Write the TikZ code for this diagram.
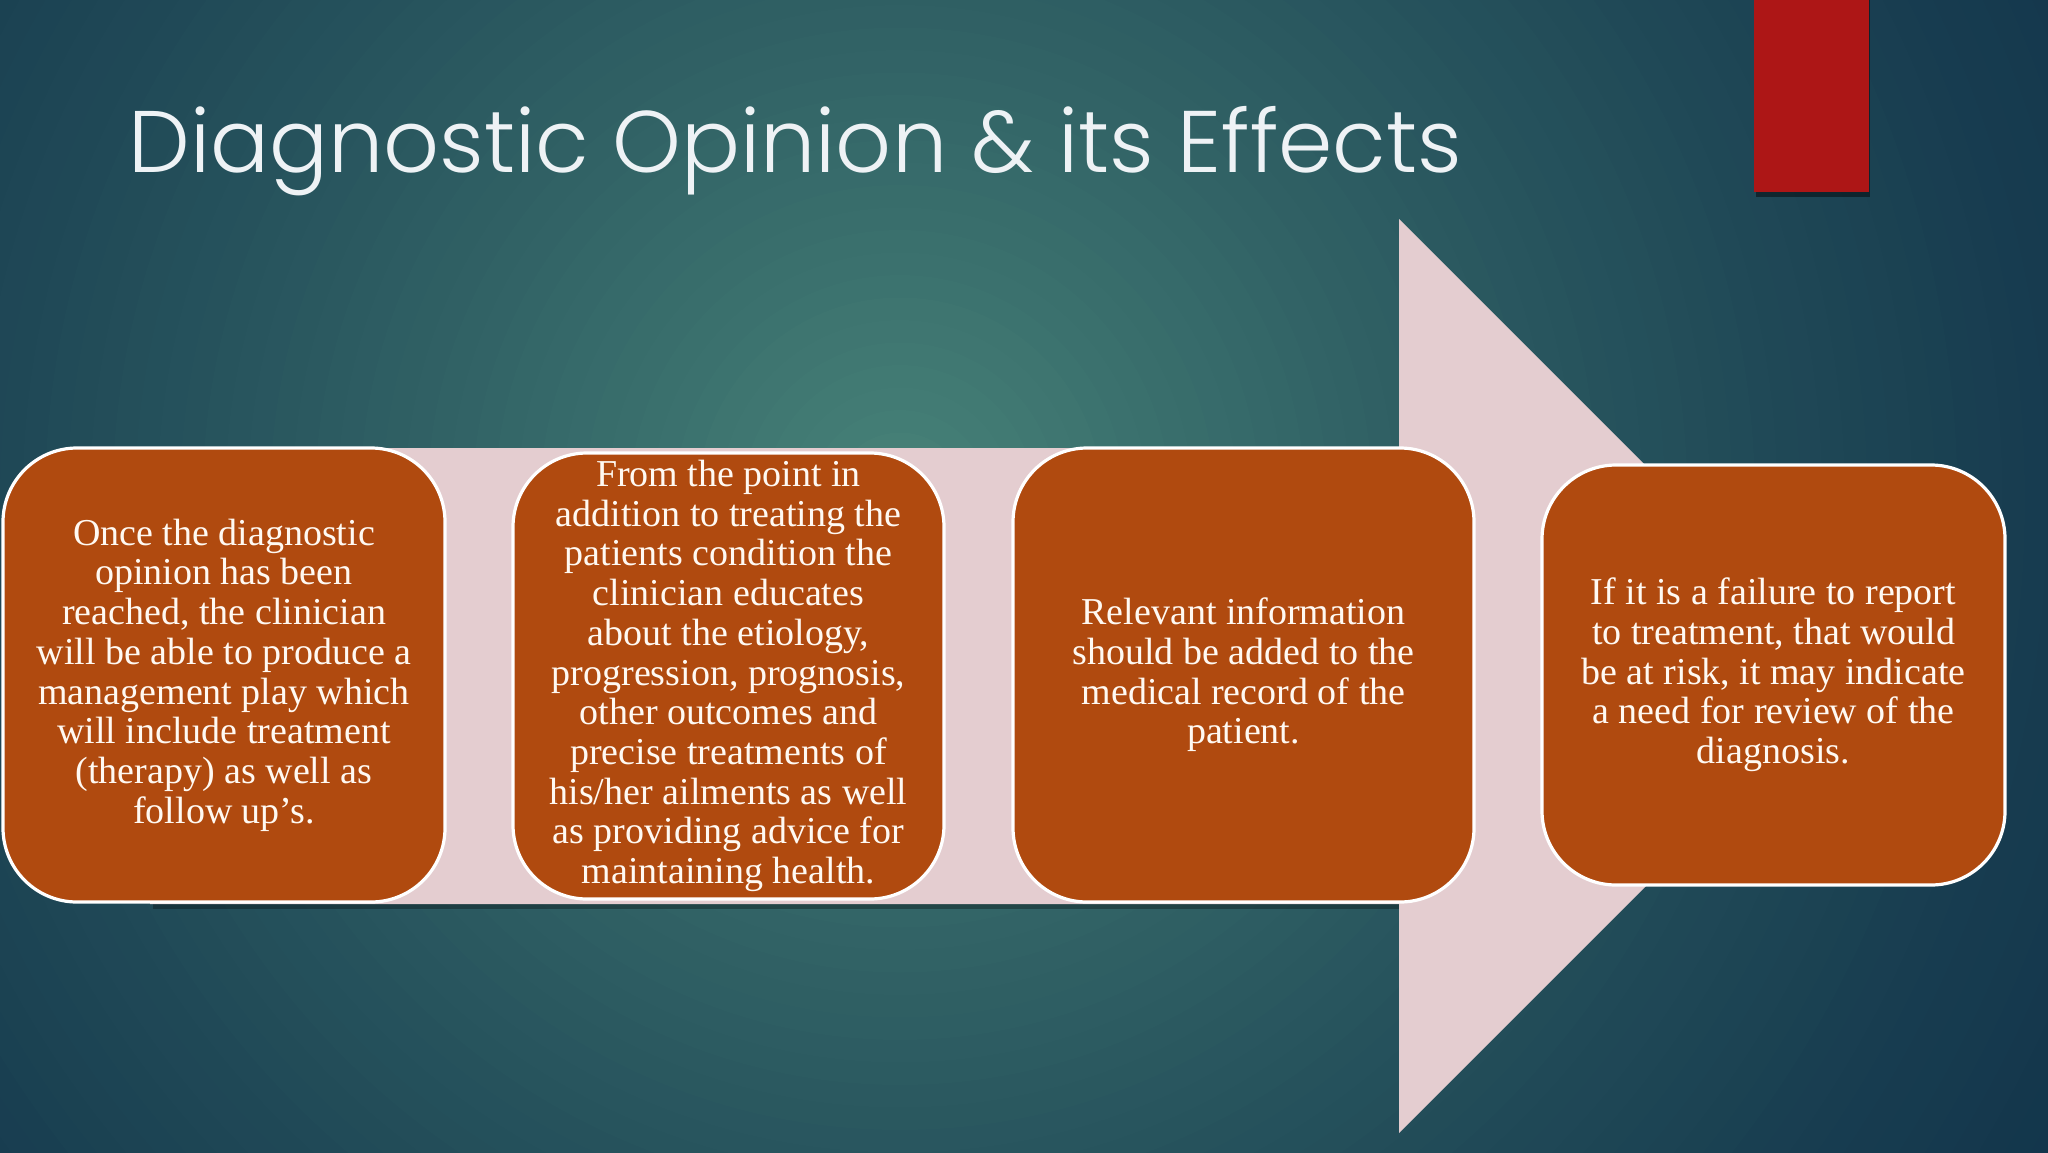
\documentclass[tikz,border=0pt]{standalone}
\usepackage{fontspec}
\setmainfont{Liberation Serif}
\newfontfamily\titlefont{Poppins}[UprightFont=* Light]
\definecolor{bgout}{HTML}{11334A}
\definecolor{bgin}{HTML}{488479}
\definecolor{redbar}{HTML}{AD1616}
\definecolor{boxfill}{HTML}{B04A0F}
\definecolor{arrowfill}{HTML}{E4CDD0}
\definecolor{titlecol}{HTML}{EEF2F5}
\definecolor{textcol}{HTML}{FFF9F2}
\tikzset{
  stepbox/.style={draw=white, line width=1.6pt, fill=boxfill, rounded corners=37pt,
    align=center, text=textcol, inner sep=0pt,
    font=\fontsize{19}{19.85}\selectfont},
}
\begin{document}
\begin{tikzpicture}[x=0.5pt,y=-0.5pt]
\useasboundingbox (0,0) rectangle (2048,1152);
% background
\fill[bgout] (0,0) rectangle (2048,1152);
\begin{scope}
\clip (0,0) rectangle (2048,1152);
\foreach \i in {64,63,...,1}{
  \pgfmathsetmacro\rr{\i*22.5}
  \pgfmathsetmacro\pp{100*(1-\i/65)^1.4}
  \fill[bgin!\pp!bgout] (900,500) circle (\rr);
}
\end{scope}
% red bar
\fill[black, opacity=0.45] (1756,0) rectangle (1870,197);
\node[fill=redbar, minimum width=57.5pt, minimum height=96pt, inner sep=0pt, anchor=north west] (redbar) at (1754,0) {};
% title
\node[anchor=base west, inner sep=0pt, text=titlecol, font=\titlefont\fontsize{43.7}{48}\selectfont] (title) at (128,172) {Diagnostic Opinion \& its Effects};
% big arrow
\fill[black, opacity=0.3] (153,454) -- (1402,454) -- (1402,909) -- (153,909) -- cycle;
\fill[arrowfill] (150,448) -- (1399,448) -- (1399,219) -- (1856,676) -- (1399,1133) -- (1399,904) -- (150,904) -- cycle;
% boxes
\node[stepbox, minimum width=221pt, minimum height=227pt] (b1) at (224,675)
 {Once the diagnostic\\ opinion has been\\ reached, the clinician\\ will be able to produce a\\ management play which\\ will include treatment\\ (therapy) as well as\\ follow up’s.};
\node[stepbox, minimum width=215.5pt, minimum height=223pt] (b2) at (728.5,676)
 {From the point in\\ addition to treating the\\ patients condition the\\ clinician educates\\ about the etiology,\\ progression, prognosis,\\ other outcomes and\\ precise treatments of\\ his/her ailments as well\\ as providing advice for\\ maintaining health.};
\node[stepbox, minimum width=230.5pt, minimum height=227pt] (b3) at (1243.5,675)
 {Relevant information\\ should be added to the\\ medical record of the\\ patient.};
\node[stepbox, minimum width=231.5pt, minimum height=210pt] (b4) at (1773.5,675)
 {If it is a failure to report\\ to treatment, that would\\ be at risk, it may indicate\\ a need for review of the\\ diagnosis.};
\end{tikzpicture}
\end{document}
